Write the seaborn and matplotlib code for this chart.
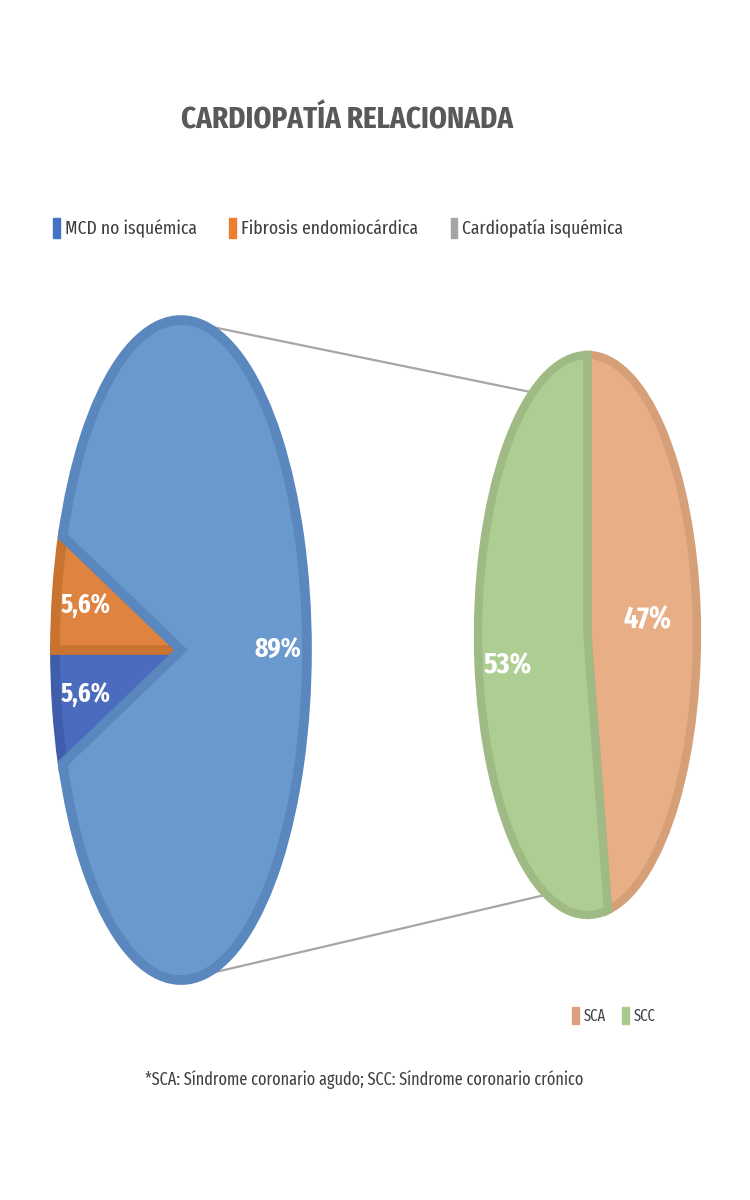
import seaborn as sns
import matplotlib.pyplot as plt
from matplotlib import font_manager
from matplotlib.patches import Patch, ConnectionPatch
import numpy as np

# data
main_labels = ["MCD no isquémica", "Fibrosis endomiocárdica", "Cardiopatía isquémica"]
main_values = [5.6, 5.6, 88.8]
main_pct = ["5,6%", "5,6%", "89%"]
sub_labels = ["SCA", "SCC"]
sub_values = [47, 53]
sub_pct = ["47%", "53%"]
title = "CARDIOPATÍA RELACIONADA"
note = "*SCA: Síndrome coronario agudo; SCC: Síndrome coronario crónico"

# colours
main_fill = ["#4A6BBE", "#DF8341", "#6999CD"]
main_edge = ["#3F5DAA", "#C8732F", "#5A88BE"]
legend_main = ["#4472C4", "#ED7D31", "#A5A5A5"]
sub_fill = ["#E8AF86", "#AECD92"]
sub_edge = ["#D59F78", "#9FBA84"]
legend_sub = ["#DDA07C", "#A9C98E"]

sns.set_theme(style="white")
names = {f.name for f in font_manager.fontManager.ttflist}
prefs = ["Fira Sans Extra Condensed", "Fira Sans Condensed", "Barlow Condensed",
         "Roboto Condensed", "Open Sans Condensed", "PT Sans Narrow",
         "Archivo Narrow", "Liberation Sans"]
cond = next(p for p in prefs if p in names)
plt.rcParams["font.family"] = [cond, "DejaVu Sans"]

fig = plt.figure(figsize=(7.5, 12), dpi=100)
fig.patch.set_facecolor("white")
renderer = fig.canvas.get_renderer()


def fit(t, width_px):
    # scale font size so the text spans the wanted width
    w = t.get_window_extent(renderer).width
    t.set_fontsize(t.get_fontsize() * width_px / w)


def size_for(strings, width_px, **kw):
    total = 0
    for s in strings:
        t = fig.text(0, 0, s, fontsize=20, **kw)
        total += t.get_window_extent(renderer).width
        t.remove()
    return 20 * width_px / total


ax1 = fig.add_axes([0.0733, 0.1833, 0.336, 0.55])
ax2 = fig.add_axes([0.6373, 0.2375, 0.292, 0.4667])

# left pie
w1, t1 = ax1.pie(main_values, labels=main_pct, startangle=180 + 360 * main_values[0] / 100,
                 counterclock=False, labeldistance=0.77, radius=1,
                 colors=main_fill,
                 wedgeprops=dict(linewidth=7, joinstyle="miter"),
                 textprops=dict(color="white", fontsize=22, fontweight="bold"))
for w, e in zip(w1, main_edge):
    w.set_edgecolor(e)
    w.set_clip_on(False)
for t in t1:
    t.set_ha("center")
    t.set_va("center")
    fit(t, 50 if "," in t.get_text() else 47)

# right pie
w2, t2 = ax2.pie(sub_values, labels=sub_pct, startangle=90, counterclock=False,
                 radius=1, colors=sub_fill,
                 wedgeprops=dict(linewidth=6, joinstyle="miter"),
                 textprops=dict(color="white", fontsize=22, fontweight="bold"))
sub_r = [0.55, 0.73]
sub_dy = [0.0, -0.04]
for w, e, t, r, dy in zip(w2, sub_edge, t2, sub_r, sub_dy):
    w.set_edgecolor(e)
    w.set_clip_on(False)
    ang = np.deg2rad((w.theta1 + w.theta2) / 2)
    t.set_position((r * np.cos(ang), r * np.sin(ang) + dy))
    t.set_ha("center")
    t.set_va("center")
    fit(t, 48)

for ax in (ax1, ax2):
    ax.set_aspect("auto")
    ax.set_xlim(-1, 1)
    ax.set_ylim(-1, 1)
    ax.axis("off")

# connector lines
for a1, a2 in [(80, 120), (-80, -112)]:
    r1, r2 = np.deg2rad(a1), np.deg2rad(a2)
    con = ConnectionPatch(xyA=(np.cos(r1), np.sin(r1)), coordsA=ax1.transData,
                          xyB=(np.cos(r2), np.sin(r2)), coordsB=ax2.transData,
                          color="#A6A6A6", linewidth=1.6, zorder=0)
    fig.add_artist(con)

tt = fig.text(0.463, 0.90, title, ha="center", va="center",
              fontsize=24, fontweight="bold", color="#595959")
fit(tt, 330)

fs_top = size_for(main_labels, 470)
h1 = [Patch(facecolor=c, edgecolor=c) for c in legend_main]
fig.legend(h1, main_labels, loc="center", bbox_to_anchor=(0.451, 0.81), ncol=3,
           frameon=False, fontsize=fs_top, handlelength=0.35, handleheight=1.2,
           handletextpad=0.25, columnspacing=1.7, labelcolor="#404040")

fs_bot = size_for(sub_labels, 44)
h2 = [Patch(facecolor=c, edgecolor=c) for c in legend_sub]
fig.legend(h2, sub_labels, loc="center", bbox_to_anchor=(0.818, 0.154), ncol=2,
           frameon=False, fontsize=fs_bot, handlelength=0.45, handleheight=1.3,
           handletextpad=0.3, columnspacing=1.0, labelcolor="#404040")

nt = fig.text(0.485, 0.10, note, ha="center", va="center", fontsize=13, color="#404040")
fit(nt, 443)

fig.savefig("out.png", dpi=100)
